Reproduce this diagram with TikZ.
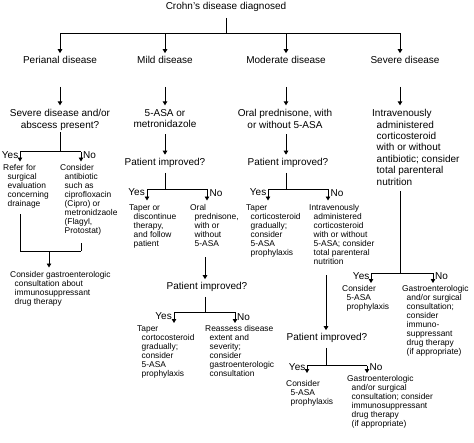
\documentclass[tikz,border=0pt]{standalone}
\usepackage{fontspec}
\setmainfont{Liberation Sans}
\usetikzlibrary{arrows.meta}
\newcommand{\ind}{\hspace*{4.5pt}}
\begin{document}
\begin{tikzpicture}[x=1pt,y=-1pt,
  big/.style={font=\fontsize{10}{11.4}\selectfont, inner sep=0pt, text height=7.2pt, text depth=2pt},
  bigblk/.style={font=\fontsize{10}{11.4}\selectfont, inner sep=0pt},
  sm/.style={font=\fontsize{8.4}{9}\selectfont, inner sep=0pt, align=left, anchor=north west},
  ln/.style={draw=black, line width=0.9pt},
  arr/.style={ln, -{Triangle[length=4pt,width=4.5pt]}}]
\useasboundingbox (0,0) rectangle (474,442);

% top
\node[big] (crohn) at (226,7) {Crohn's disease diagnosed};
\coordinate (d1) at (60,33);
\coordinate (d2) at (165,33);
\coordinate (d3) at (286,33);
\coordinate (d4) at (400,33);
\coordinate (dt) at (226,33);
\draw[ln, shorten <=6pt] (crohn.south) -- (dt);
\draw[ln] (d1) -- (d4);

\node[big] (peri) at (60,61) {Perianal disease};
\node[big] (mild) at (165,61) {Mild disease};
\node[big] (mod) at (286,61) {Moderate disease};
\node[big] (sev) at (405,61) {Severe disease};
\draw[arr, shorten >=3pt] (d1) -- (d1 |- peri.north);
\draw[arr, shorten >=3pt] (d2) -- (d2 |- mild.north);
\draw[arr, shorten >=3pt] (d3) -- (d3 |- mod.north);
\draw[arr, shorten >=3pt] (d4) -- (d4 |- sev.north);

% level 3
\node[bigblk, align=center, anchor=north] (sevq) at (60,109.3) {Severe disease and/or\\abscess present?};
\node[bigblk, align=center, anchor=north] (ma5) at (165,109.3) {5-ASA or\\metronidazole};
\node[bigblk, align=center, anchor=north] (mpred) at (285,109.3) {Oral prednisone, with\\or without 5-ASA};
\node[bigblk, align=left, anchor=north west] (siv) at (372,109.3) {Intravenously\\\ind administered\\\ind corticosteroid\\\ind with or without\\\ind antibiotic; consider\\\ind total parenteral\\\ind nutrition};
\draw[arr, shorten <=21pt, shorten >=4pt] (d1 |- peri.south) -- (d1 |- sevq.north);
\draw[arr, shorten <=21pt, shorten >=4pt] (d2 |- mild.south) -- (d2 |- ma5.north);
\draw[arr, shorten <=21pt, shorten >=4pt] (d3 |- mod.south) -- (d3 |- mpred.north);
\draw[arr, shorten <=21pt, shorten >=4pt] (d4 |- sev.south) -- (d4 |- siv.north);

% perianal branch
\coordinate (pj) at (60,151.5);
\coordinate (pY) at (20,151.5);
\coordinate (pN) at (81,151.5);
\draw[ln, shorten <=2pt] (sevq.south) -- (pj);
\draw[ln] (pY) -- (pN);
\node[big, anchor=east] (pyes) at (18.5,156) {Yes};
\node[big, anchor=west] (pno) at (83,156) {No};
\node[sm] (refer) at (3,164) {Refer for\\\ind surgical\\\ind evaluation\\\ind concerning\\\ind drainage};
\node[sm] (antib) at (60,164) {Consider\\\ind antibiotic\\\ind such as\\\ind ciprofloxacin\\\ind (Cipro) or\\\ind metronidzaole\\\ind (Flagyl,\\\ind Protostat)};
\draw[arr, shorten >=2.5pt] (pY) -- (pY |- refer.north);
\draw[arr, shorten >=2.5pt] (pN) -- (pN |- antib.north);
\coordinate (jL) at (20,251);
\coordinate (jR) at (81,251);
\coordinate (jM) at (49,251);
\draw[ln, shorten <=6pt] (pY |- refer.south) -- (jL) -- (jR);
\draw[ln, shorten <=8pt] (pN |- antib.south) -- (jR);
\node[sm] (gas1) at (10,271.5) {Consider gastroenterologic\\\ind consultation about\\\ind immunosuppressant\\\ind drug therapy};
\draw[arr, shorten >=4pt] (jM) -- (jM |- gas1.north);

% mild branch
\node[big] (mimp) at (165,163) {Patient improved?};
\draw[arr, shorten <=6pt, shorten >=3.5pt] (ma5.south) -- (mimp.north);
\coordinate (mj) at (165,189);
\coordinate (mY) at (147,189);
\coordinate (mN) at (207,189);
\draw[ln, shorten <=5pt] (mimp.south) -- (mj);
\draw[ln] (mY) -- (mN);
\node[big, anchor=east] (myes) at (145,193) {Yes};
\node[big, anchor=west] (mno) at (209.5,194) {No};
\node[sm] (tap1) at (129,204.5) {Taper or\\\ind discontinue\\\ind therapy,\\\ind and follow\\\ind patient};
\node[sm] (oral) at (190,204.5) {Oral\\\ind prednisone,\\\ind with or\\\ind without\\\ind 5-ASA};
\draw[arr, shorten >=4pt] (mY) -- (mY |- tap1.north);
\draw[arr, shorten >=4pt] (mN) -- (mN |- oral.north);
\node[big] (mimp2) at (207,287) {Patient improved?};
\coordinate (ox) at (205,257);
\draw[arr, shorten >=3pt] (ox) -- (ox |- mimp2.north);
\coordinate (m2j) at (205,312);
\coordinate (m2Y) at (174,312);
\coordinate (m2N) at (235,312);
\draw[ln, shorten <=5pt] (ox |- mimp2.south) -- (m2j);
\draw[ln] (m2Y) -- (m2N);
\node[big, anchor=east] (m2yes) at (172,317) {Yes};
\node[big, anchor=west] (m2no) at (237,318) {No};
\node[sm] (tap2) at (137,325.5) {Taper\\\ind cortocosteroid\\\ind gradually;\\\ind consider\\\ind 5-ASA\\\ind prophylaxis};
\node[sm] (reas) at (205,325.5) {Reassess disease\\\ind extent and\\\ind severity;\\\ind consider\\\ind gastroenterologic\\\ind consultation};
\draw[arr, shorten >=2.5pt] (m2Y) -- (m2Y |- tap2.north);
\draw[arr, shorten >=2.5pt] (m2N) -- (m2N |- reas.north);

% moderate branch
\node[big] (dimp) at (288,163) {Patient improved?};
\draw[arr, shorten <=6pt, shorten >=3.5pt] (d3 |- mpred.south) -- (d3 |- dimp.north);
\coordinate (dj) at (286,189);
\coordinate (dY) at (268,189);
\coordinate (dN) at (328,189);
\draw[ln, shorten <=5pt] (d3 |- dimp.south) -- (dj);
\draw[ln] (dY) -- (dN);
\node[big, anchor=east] (dyes) at (266.5,193) {Yes};
\node[big, anchor=west] (dno) at (330.5,194) {No};
\node[sm] (tap3) at (246,204.5) {Taper\\\ind corticosteroid\\\ind gradually;\\\ind consider\\\ind 5-ASA\\\ind prophylaxis};
\node[sm] (ivm) at (309,204.5) {Intravenously\\\ind administered\\\ind corticosteroid\\\ind with or without\\\ind 5-ASA; consider\\\ind total parenteral\\\ind nutrition};
\draw[arr, shorten >=4pt] (dY) -- (dY |- tap3.north);
\draw[arr, shorten >=4pt] (dN) -- (dN |- ivm.north);
\node[big] (dimp2) at (327,338) {Patient improved?};
\coordinate (ix) at (326,275);
\draw[arr, shorten >=3pt] (ix) -- (ix |- dimp2.north);
\coordinate (d2j) at (326,365.5);
\coordinate (d2Y) at (307,365.5);
\coordinate (d2N) at (367,365.5);
\draw[ln, shorten <=5pt] (ix |- dimp2.south) -- (d2j);
\draw[ln] (d2Y) -- (d2N);
\node[big, anchor=east] (d2yes) at (305.5,368) {Yes};
\node[big, anchor=west] (d2no) at (369.5,368) {No};
\node[sm] (con2) at (286,380.5) {Consider\\\ind 5-ASA\\\ind prophylaxis};
\node[sm] (gas3) at (347,375.5) {Gastroenterologic\\\ind and/or surgical\\\ind consultation; consider\\\ind immunosuppressant\\\ind drug therapy\\\ind (if appropriate)};
\draw[arr, shorten >=7.5pt] (d2Y) -- (d2Y |- con2.north);
\draw[arr, shorten >=2.5pt] (d2N) -- (d2N |- gas3.north);

% severe branch
\coordinate (sj) at (400,273);
\coordinate (sY) at (371,273);
\coordinate (sN) at (433,273);
\draw[ln, shorten <=6pt] (sj |- siv.south) -- (sj);
\draw[ln] (sY) -- (sN);
\node[big, anchor=east] (syes) at (369.5,277) {Yes};
\node[big, anchor=west] (sno) at (435,277) {No};
\node[sm] (con1) at (342,285.5) {Consider\\\ind 5-ASA\\\ind prophylaxis};
\node[sm] (gas2) at (402,285.5) {Gastroenterologic\\\ind and/or surgical\\\ind consultation;\\\ind consider\\\ind immuno-\\\ind suppressant\\\ind drug therapy\\\ind (if appropriate)};
\draw[arr, shorten >=2.5pt] (sY) -- (sY |- con1.north);
\draw[arr, shorten >=2.5pt] (sN) -- (sN |- gas2.north);
\end{tikzpicture}
\end{document}
